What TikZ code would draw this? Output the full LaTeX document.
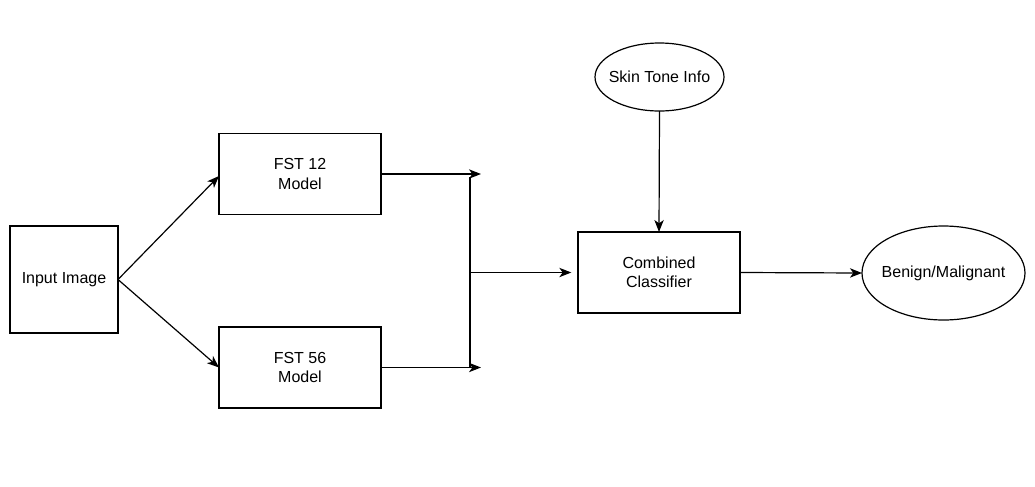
\documentclass[tikz,border=0pt]{standalone}
\usepackage{fontspec}
\setmainfont{Liberation Sans}
\usetikzlibrary{arrows.meta,shapes.geometric}
\tikzset{
  box/.style={draw, line width=0.9pt, inner sep=0pt, outer sep=0pt, align=center,
    minimum width=121.5pt, minimum height=60.75pt, font=\fontsize{12}{14.4}\selectfont},
  oval/.style={draw, ellipse, line width=0.9pt, inner ysep=0pt, inner xsep=-6pt, outer sep=0pt,
    font=\fontsize{12}{14.4}\selectfont},
  tok/.style={-{Stealth[length=9pt, width=7pt, inset=2.5pt]}, line width=0.9pt}
}
\begin{document}
\begin{tikzpicture}[x=0.75pt, y=-0.75pt]
  \useasboundingbox (0,0) rectangle (1035,486);
  % vozlisca
  \node [box, minimum width=81pt, minimum height=80.25pt] (input) at (64, 279.5) {Input Image};
  \node [box] (fst12) at (300, 174) {FST 12\\Model};
  \node [box] (fst56) at (300, 367.5) {FST 56\\Model};
  \node [box] (comb) at (659, 272.5) {Combined\\Classifier};
  \node [oval, minimum width=96.75pt, minimum height=51pt] (skin) at (659.5, 77) {Skin Tone Info};
  \node [oval, minimum width=122.25pt, minimum height=70.5pt] (out) at (943.5, 273) {Benign/Malignant};
  % koordinate
  \coordinate (top) at (481, 174);
  \coordinate (bot) at (481, 367.5);
  \coordinate (jt) at (470, 177);
  \coordinate (jb) at (470, 367.5);
  \coordinate (jm) at (470, 272.5);
  % puscice
  \draw [tok] (input.east) -- ([yshift=-1.5pt]fst12.west);
  \draw [tok] (input.east) -- (fst56.west);
  \draw [tok] (fst12.east) -- (top);
  \draw [tok] (fst56.east) -- (bot);
  \draw [line width=0.9pt] (jt) -- (jb);
  \draw [tok, shorten >=5pt] (jm) -- (comb.west);
  \draw [tok] (skin.south) -- (comb.north);
  \draw [tok] (comb.east) -- (out.west);
\end{tikzpicture}
\end{document}
